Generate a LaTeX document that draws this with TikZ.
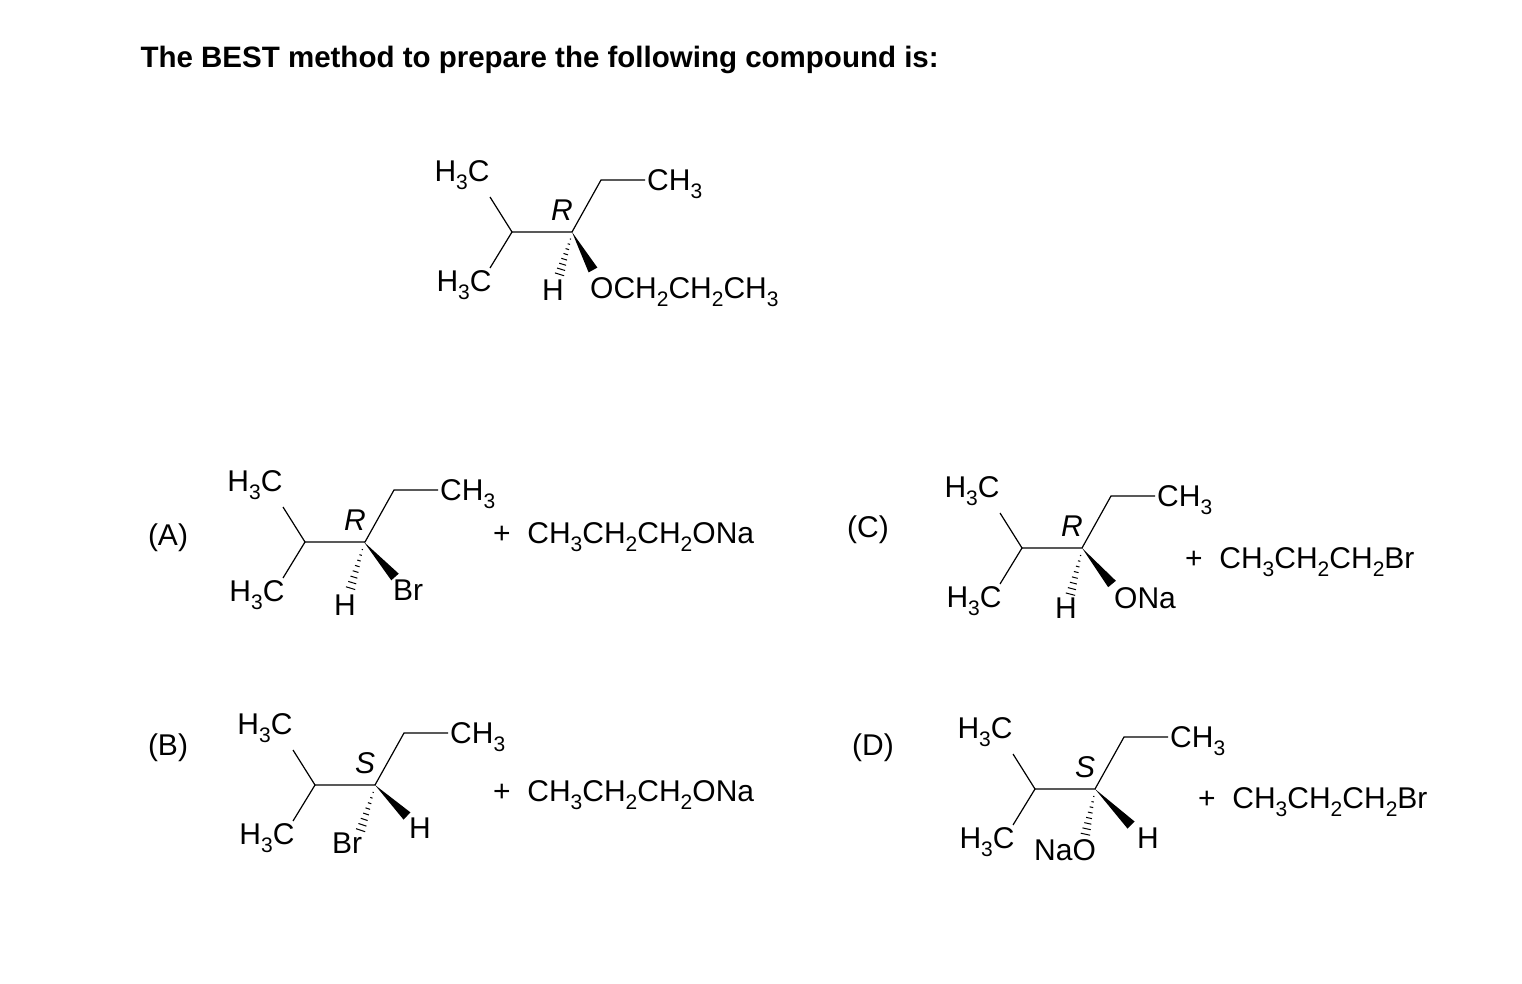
\documentclass[tikz,border=0pt]{standalone}
\usepackage{fontspec}
\setmainfont{Liberation Sans}
\usetikzlibrary{calc}
\newcommand{\chsub}[1]{\raisebox{-0.28em}{\fontsize{21}{21}\selectfont #1}}
\newcommand{\hashbd}[2]{%
  \foreach \t in {0.12,0.24,...,1.0}{
    \draw[line width=1pt] ($($#1!\t!#2$)!{\t*5pt}!90:#2$) -- ($($#1!\t!#2$)!{\t*5pt}!-90:#2$);
  }}
\newcommand{\wedgebd}[2]{%
  \fill #1 -- ($#2!5pt!90:#1$) -- ($#2!5pt!-90:#1$) -- cycle;}
\tikzset{
  lbl/.style={inner sep=0pt,font=\fontsize{30}{30}\selectfont},
  bond/.style={line width=1.2pt},
}
\newcommand{\skel}[3]{%
\begin{scope}[shift={#1}]
  \draw[bond] (-22,-35) -- (0,0) -- (-22,36);
  \draw[bond] (0,0) -- (60,0) -- (89,-52) -- (133,-52);
  \node[lbl] (#3u) at (-50,-57) {H\chsub{3}C};
  \node[lbl] (#3d) at (-48,53) {H\chsub{3}C};
  \node[lbl,anchor=west] (#3m) at (135,-48) {CH\chsub{3}};
  \node[lbl] (#3s) at (50,-22) {\textit{#2}};
\end{scope}}
\begin{document}
\begin{tikzpicture}[x=1pt,y=-1pt]
\useasboundingbox (0,0) rectangle (1522,984);
\node[anchor=west,font=\fontsize{29.5}{30}\selectfont\bfseries] (title) at (137,60) {The BEST method to prepare the following compound is:};
% target
\skel{(512,232)}{R}{t}
\hashbd{(572,234)}{(559,276)}
\wedgebd{(572,232)}{(593,270)}
\node[lbl] (tH) at (553,290) {H};
\node[lbl,anchor=west] (tO) at (590,292) {OCH\chsub{2}CH\chsub{2}CH\chsub{3}};
% A
\node[lbl] (la) at (168,538) {(A)};
\skel{(305,542)}{R}{a}
\hashbd{(364,544)}{(350,590)}
\wedgebd{(364,542)}{(395,577)}
\node[lbl] (aH) at (345,605) {H};
\node[lbl] (aBr) at (408,590) {Br};
\node[lbl,anchor=west] (ar) at (493,537) {+\ \ CH\chsub{3}CH\chsub{2}CH\chsub{2}ONa};
% B
\node[lbl] (lb) at (168,748) {(B)};
\skel{(315,785)}{S}{b}
\hashbd{(375,787)}{(360,832)}
\wedgebd{(375,785)}{(407,816)}
\node[lbl] (bBr) at (347,843) {Br};
\node[lbl] (bH) at (420,828) {H};
\node[lbl,anchor=west] (br) at (493,795) {+\ \ CH\chsub{3}CH\chsub{2}CH\chsub{2}ONa};
% C
\node[lbl] (lc) at (868,530) {(C)};
\skel{(1022,548)}{R}{c}
\hashbd{(1082,550)}{(1070,596)}
\wedgebd{(1082,548)}{(1112,584)}
\node[lbl] (cH) at (1066,608) {H};
\node[lbl] (cO) at (1145,598) {ONa};
\node[lbl,anchor=west] (cr) at (1185,562) {+\ \ CH\chsub{3}CH\chsub{2}CH\chsub{2}Br};
% D
\node[lbl] (ld) at (873,748) {(D)};
\skel{(1035,789)}{S}{d}
\hashbd{(1095,791)}{(1085,836)}
\wedgebd{(1095,789)}{(1131,825)}
\node[lbl] (dO) at (1065,850) {NaO};
\node[lbl] (dH) at (1148,838) {H};
\node[lbl,anchor=west] (dr) at (1198,802) {+\ \ CH\chsub{3}CH\chsub{2}CH\chsub{2}Br};
\end{tikzpicture}
\end{document}
